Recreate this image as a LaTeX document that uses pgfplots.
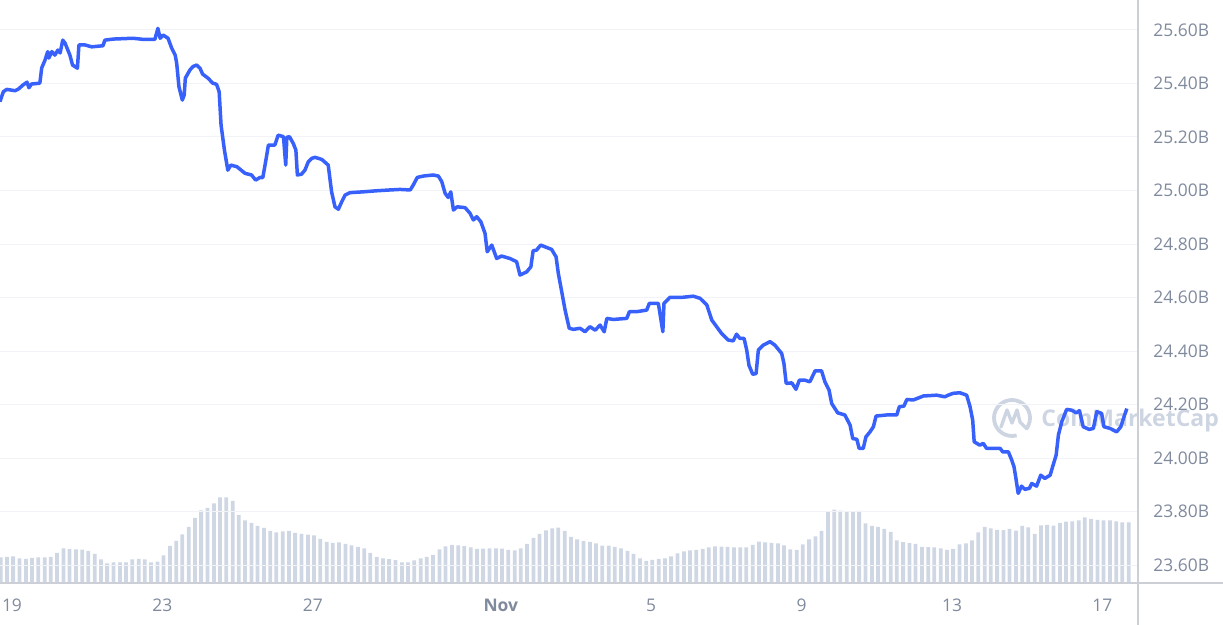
\documentclass[border=0pt]{standalone}
\usepackage{fontspec}
\setmainfont{Open Sans}
\usepackage{pgfplots}
\usepackage{pgfplotstable}
\pgfplotsset{compat=1.18}

\definecolor{cmcblue}{RGB}{56,97,251}
\definecolor{volbar}{RGB}{207,214,228}
\definecolor{ticktext}{RGB}{128,138,157}
\definecolor{gridcol}{RGB}{241,243,247}
\definecolor{axisgray}{RGB}{204,208,214}
\definecolor{wm}{RGB}{206,213,226}

% volume bars, one every 4 hours (x = days from Oct 19)
\pgfplotstableread{
x y
-0.30 25.7
-0.13 26
0.03 26.5
0.20 24.5
0.37 24
0.53 25
0.70 25.7
0.87 25.7
1.03 26
1.20 30
1.37 34.5
1.53 33.8
1.70 33.5
1.87 33.3
2.03 32
2.20 29
2.37 23.5
2.53 19.5
2.70 20.7
2.87 20.7
3.03 20.7
3.20 23.5
3.37 24
3.53 23.5
3.70 20.5
3.87 21.3
4.03 27.5
4.20 37
4.37 42
4.53 48.5
4.70 56
4.87 65
5.03 72.5
5.20 75
5.37 79.5
5.53 85.7
5.70 85.7
5.87 82
6.03 68
6.20 62.7
6.37 60
6.53 57
6.70 55
6.87 52
7.03 50.5
7.20 51.5
7.37 52
7.53 50
7.70 49
7.87 48.3
8.03 47.5
8.20 44
8.37 41
8.53 40
8.70 40.5
8.87 39
9.03 37.5
9.20 36
9.37 34.5
9.53 30
9.70 26
9.87 24.5
10.03 23.8
10.20 22.8
10.37 20.7
10.53 20.7
10.70 22.5
10.87 24.7
11.03 26
11.20 28
11.37 33.5
11.53 36.5
11.70 38
11.87 37.5
12.03 36.8
12.20 35.5
12.37 34
12.53 34.3
12.70 34.5
12.87 34.7
13.03 34.3
13.20 33.2
13.37 32.5
13.53 34.5
13.70 39
13.87 45
14.03 49
14.20 52.5
14.37 54.5
14.53 55.3
14.70 52
14.87 46
15.03 43.5
15.20 42
15.37 41
15.53 39.5
15.70 37.3
15.87 37.3
16.03 36
16.20 34.5
16.37 32
16.53 29
16.70 24.5
16.87 22.2
17.03 23.2
17.20 24
17.37 24.5
17.53 26.5
17.70 29.5
17.87 31.5
18.03 32.5
18.20 33
18.37 34
18.53 35.5
18.70 36.6
18.87 36.3
19.03 36
19.20 35.7
19.37 35.7
19.53 35.7
19.70 38
19.87 41.3
20.03 40.5
20.20 40
20.37 39.5
20.53 37.5
20.70 33.5
20.87 33
21.03 38.5
21.20 43.5
21.37 46.5
21.53 52
21.70 71
21.87 73.3
22.03 72.3
22.20 71.8
22.37 71.3
22.53 72
22.70 59.5
22.87 57
23.03 56
23.20 54
23.37 51
23.53 42.5
23.70 40.8
23.87 39.8
24.03 39
24.20 36.2
24.37 35.9
24.53 35.5
24.70 34.5
24.87 33
25.03 34
25.20 38.5
25.37 39.5
25.53 42.5
25.70 50.5
25.87 56
26.03 54.7
26.20 53
26.37 52.8
26.53 54
26.70 52.3
26.87 57
27.03 55.7
27.20 49
27.37 57.5
27.53 58
27.70 57.3
27.87 60
28.03 61.4
28.20 61.5
28.37 62.5
28.53 65.5
28.70 64
28.87 63
29.03 62.5
29.20 62.5
29.37 61.5
29.53 60.7
29.70 60.7
}\voldata

% market cap in billions
\pgfplotstableread{
x y
-0.32 25.332
-0.23 25.369
-0.14 25.378
0.08 25.373
0.17 25.379
0.29 25.394
0.40 25.405
0.45 25.384
0.52 25.398
0.74 25.401
0.79 25.458
0.88 25.488
0.95 25.519
0.98 25.495
1.06 25.519
1.14 25.506
1.22 25.525
1.28 25.514
1.35 25.562
1.41 25.551
1.54 25.506
1.61 25.469
1.74 25.457
1.78 25.544
1.94 25.544
2.12 25.537
2.42 25.541
2.47 25.562
2.69 25.566
3.22 25.569
3.48 25.565
3.80 25.565
3.88 25.606
3.94 25.569
4.02 25.581
4.15 25.569
4.25 25.531
4.34 25.506
4.38 25.476
4.44 25.388
4.53 25.338
4.58 25.357
4.61 25.420
4.73 25.450
4.81 25.463
4.91 25.469
5.00 25.457
5.07 25.435
5.22 25.419
5.34 25.401
5.44 25.397
5.51 25.369
5.56 25.245
5.65 25.151
5.74 25.076
5.82 25.095
5.98 25.089
6.20 25.064
6.37 25.058
6.48 25.039
6.60 25.049
6.67 25.048
6.73 25.095
6.82 25.170
6.99 25.170
7.08 25.207
7.22 25.201
7.28 25.095
7.31 25.199
7.38 25.201
7.48 25.176
7.55 25.151
7.59 25.058
7.70 25.061
7.79 25.076
7.88 25.107
7.97 25.120
8.06 25.124
8.24 25.116
8.41 25.095
8.50 24.995
8.59 24.939
8.68 24.930
8.77 24.958
8.86 24.983
8.99 24.992
9.34 24.995
9.70 24.999
10.05 25.002
10.32 25.004
10.59 25.002
10.67 25.020
10.78 25.049
10.94 25.054
11.20 25.058
11.34 25.054
11.43 25.033
11.52 24.989
11.60 24.974
11.67 24.995
11.74 24.927
11.84 24.939
12.05 24.936
12.18 24.915
12.27 24.890
12.36 24.902
12.47 24.883
12.58 24.840
12.64 24.771
12.76 24.796
12.89 24.746
13.02 24.755
13.24 24.746
13.42 24.734
13.51 24.684
13.69 24.696
13.80 24.715
13.86 24.775
13.95 24.777
14.06 24.796
14.22 24.787
14.35 24.780
14.47 24.752
14.53 24.690
14.62 24.622
14.71 24.553
14.82 24.485
14.93 24.481
15.11 24.485
15.24 24.472
15.37 24.491
15.51 24.478
15.64 24.497
15.75 24.472
15.82 24.522
15.99 24.518
16.35 24.522
16.42 24.547
16.61 24.547
16.88 24.553
16.95 24.578
17.19 24.578
17.31 24.472
17.34 24.578
17.50 24.601
17.85 24.601
18.12 24.605
18.30 24.597
18.48 24.572
18.61 24.516
18.74 24.491
18.87 24.466
19.05 24.441
19.18 24.438
19.27 24.463
19.36 24.447
19.47 24.447
19.54 24.404
19.60 24.347
19.70 24.313
19.79 24.316
19.85 24.404
19.98 24.422
20.16 24.435
20.29 24.422
20.47 24.391
20.53 24.354
20.59 24.279
20.74 24.281
20.85 24.257
20.94 24.291
21.09 24.291
21.22 24.285
21.36 24.326
21.53 24.326
21.62 24.285
21.73 24.254
21.80 24.204
21.96 24.169
22.15 24.161
22.29 24.123
22.36 24.073
22.47 24.070
22.53 24.036
22.64 24.036
22.71 24.079
22.82 24.098
22.91 24.117
22.98 24.157
23.26 24.161
23.53 24.161
23.60 24.192
23.72 24.194
23.80 24.219
23.97 24.217
24.24 24.232
24.59 24.235
24.81 24.229
24.90 24.235
25.03 24.242
25.21 24.244
25.39 24.235
25.48 24.192
25.55 24.142
25.59 24.061
25.74 24.048
25.83 24.055
25.92 24.036
26.06 24.036
26.28 24.036
26.35 24.023
26.50 24.023
26.59 23.992
26.65 23.967
26.70 23.924
26.76 23.868
26.85 23.895
26.94 23.883
27.06 23.887
27.12 23.905
27.25 23.895
27.36 23.936
27.47 23.924
27.61 23.936
27.69 23.974
27.77 24.011
27.83 24.086
27.92 24.136
28.05 24.182
28.18 24.179
28.30 24.169
28.39 24.177
28.49 24.117
28.65 24.107
28.76 24.111
28.85 24.173
28.98 24.167
29.04 24.117
29.20 24.111
29.38 24.098
29.49 24.117
29.56 24.148
29.65 24.185
}\capdata

\begin{document}
\begin{tikzpicture}
\useasboundingbox (0bp,-21bp) rectangle (611.5bp,291.5bp);

% watermark
\draw[wm, line width=1.9bp] (506bp,82.5bp) ++(-35:9bp) arc[start angle=-35, end angle=285, radius=9bp];
\draw[wm, line width=1.7bp, line join=round, line cap=round]
  (500.5bp,78bp) -- (503.5bp,86.5bp) -- (506bp,80bp) -- (508.5bp,86.5bp) -- (510bp,80.5bp) -- (513.5bp,77bp);
\node[anchor=west, inner sep=0pt, text=wm, font=\fontsize{11.5bp}{13bp}\selectfont\bfseries] at (520.5bp,81bp) {CoinMarketCap};

% volume
\begin{axis}[at={(0,0)}, anchor=south west, scale only axis,
  width=569bp, height=291.5bp,
  xmin=-0.319, xmax=29.947, ymin=0, ymax=583, hide axis]
\addplot[ybar, bar width=0.1, fill=volbar, draw=none] table[x=x, y=y] {\voldata};
\end{axis}

% market cap
\begin{axis}[at={(0,0)}, anchor=south west, scale only axis,
  width=569bp, height=291.5bp,
  xmin=-0.319, xmax=29.947, ymin=23.533, ymax=25.712,
  axis line style={draw=none},
  major tick length=0pt, tick style={draw=none},
  /pgf/number format/assume math mode=true,
  ytick={23.6,23.8,24.0,24.2,24.4,24.6,24.8,25.0,25.2,25.4,25.6},
  yticklabels={23.60B,23.80B,24.00B,24.20B,24.40B,24.60B,24.80B,25.00B,25.20B,25.40B,25.60B},
  yticklabel pos=right,
  yticklabel style={anchor=west, inner sep=0pt, xshift=7.5bp, text=ticktext,
    font=\fontsize{8.7bp}{10bp}\selectfont},
  xtick={0,4,8,13,17,21,25,29},
  xticklabels={19,23,27,\textbf{Nov},5,9,13,17},
  xticklabel style={anchor=center, inner sep=0pt, yshift=-11bp, text=ticktext,
    font=\fontsize{8.7bp}{10bp}\selectfont},
  ymajorgrids, grid style={gridcol, line width=0.5bp}]
\addplot[cmcblue, line width=1.75bp, line join=round] table[x=x, y=y] {\capdata};
\end{axis}

\draw[axisgray, line width=0.6bp] (569bp,291.5bp) -- (569bp,-21bp);
\draw[axisgray, line width=0.6bp] (0bp,0bp) -- (611.5bp,0bp);
\end{tikzpicture}
\end{document}
